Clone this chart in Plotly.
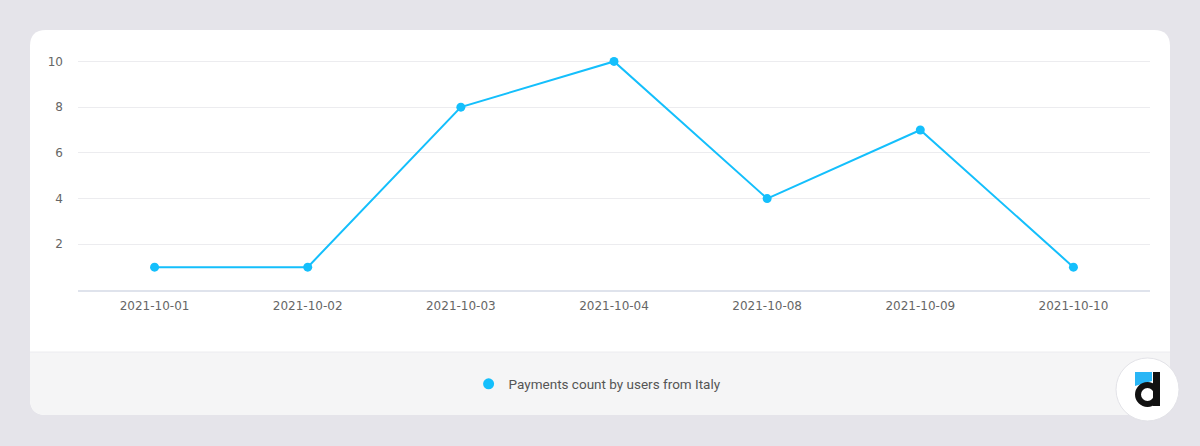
import plotly.graph_objects as go

dates = ["2021-10-01", "2021-10-02", "2021-10-03", "2021-10-04", "2021-10-08", "2021-10-09", "2021-10-10"]
payments = [1, 1, 8, 10, 4, 7, 1]
series_name = "Payments count by users from Italy"
y_ticks = [2, 4, 6, 8, 10]

W, H = 1200, 446
BLUE = "#14bffc"
BG = "#e5e4ea"


def px(x):
    return x / W


def py(y):
    return 1 - y / H


def rounded_rect(x0, y0, x1, y1, r, top=True, bottom=True):
    # path in paper coords from pixel box
    p = []
    if top:
        p.append(f"M{px(x0)},{py(y0 + r)}")
        p.append(f"Q{px(x0)},{py(y0)} {px(x0 + r)},{py(y0)}")
        p.append(f"L{px(x1 - r)},{py(y0)}")
        p.append(f"Q{px(x1)},{py(y0)} {px(x1)},{py(y0 + r)}")
    else:
        p.append(f"M{px(x0)},{py(y0)}")
        p.append(f"L{px(x1)},{py(y0)}")
    if bottom:
        p.append(f"L{px(x1)},{py(y1 - r)}")
        p.append(f"Q{px(x1)},{py(y1)} {px(x1 - r)},{py(y1)}")
        p.append(f"L{px(x0 + r)},{py(y1)}")
        p.append(f"Q{px(x0)},{py(y1)} {px(x0)},{py(y1 - r)}")
    else:
        p.append(f"L{px(x1)},{py(y1)}")
        p.append(f"L{px(x0)},{py(y1)}")
    p.append("Z")
    return " ".join(p)


fig = go.Figure()

fig.add_trace(go.Scatter(
    x=dates, y=payments,
    mode="lines+markers",
    line=dict(color=BLUE, width=2),
    marker=dict(color=BLUE, size=9),
    showlegend=False,
    hoverinfo="x+y",
))

# legend entry (marker only, like the original)
fig.add_trace(go.Scatter(
    x=[None], y=[None],
    mode="markers",
    marker=dict(color=BLUE, size=11),
    name=series_name,
))

shapes = [
    # white card
    dict(type="path", xref="paper", yref="paper", layer="below",
         path=rounded_rect(30, 30, 1170, 415, 16),
         fillcolor="white", line=dict(width=0)),
    # footer
    dict(type="path", xref="paper", yref="paper", layer="below",
         path=rounded_rect(30, 352, 1170, 415, 16, top=False),
         fillcolor="#f5f5f6", line=dict(width=0)),
    dict(type="line", xref="paper", yref="paper", layer="below",
         x0=px(30), x1=px(1170), y0=py(352), y1=py(352),
         line=dict(color="#ececef", width=1)),
    # logo
    dict(type="circle", xref="paper", yref="paper",
         x0=px(1116), x1=px(1179), y0=py(358), y1=py(421),
         fillcolor="white", line=dict(color="#e3e3e8", width=1)),
    dict(type="path", xref="paper", yref="paper",
         path=f"M{px(1135)},{py(372)} L{px(1152)},{py(372)} L{px(1152)},{py(381)} L{px(1135)},{py(386)} Z",
         fillcolor="#29b6f6", line=dict(width=0)),
    dict(type="circle", xref="paper", yref="paper",
         x0=px(1138), x1=px(1157), y0=py(385), y1=py(404),
         fillcolor="rgba(0,0,0,0)", line=dict(color="#111111", width=6)),
    dict(type="rect", xref="paper", yref="paper",
         x0=px(1153), x1=px(1160), y0=py(372), y1=py(406),
         fillcolor="#111111", line=dict(width=0)),
]

fig.update_layout(
    width=W, height=H,
    margin=dict(l=0, r=0, t=0, b=0),
    paper_bgcolor=BG,
    plot_bgcolor="rgba(0,0,0,0)",
    font=dict(family="DejaVu Sans", size=12, color="#666666"),
    shapes=shapes,
    showlegend=True,
    legend=dict(
        orientation="h", x=0.498, xanchor="center", y=py(384), yanchor="middle",
        font=dict(family="Roboto", size=13.5, color="#555555"),
        bgcolor="rgba(0,0,0,0)", itemwidth=30,
    ),
    xaxis=dict(
        domain=[px(78), px(1150)],
        type="category",
        range=[-0.5, len(dates) - 0.5],
        showgrid=False, zeroline=False,
        showline=True, linecolor="#dfe3ec", linewidth=2,
        ticks="", ticklabelstandoff=4,
        tickfont=dict(family="DejaVu Sans", size=12, color="#666666"),
    ),
    yaxis=dict(
        domain=[py(290), py(50)],
        range=[0, 10.5],
        tickvals=y_ticks,
        showgrid=True, gridcolor="#ececef", gridwidth=1,
        zeroline=False, showline=False,
        ticks="", ticklabelstandoff=14,
        tickfont=dict(family="DejaVu Sans", size=12, color="#666666"),
    ),
)

# remove the default page margin so the figure fills the window
fig.write_html(
    "out.html",
    config={"displayModeBar": False},
    post_script=f"document.body.style.margin='0';document.body.style.background='{BG}';",
)
